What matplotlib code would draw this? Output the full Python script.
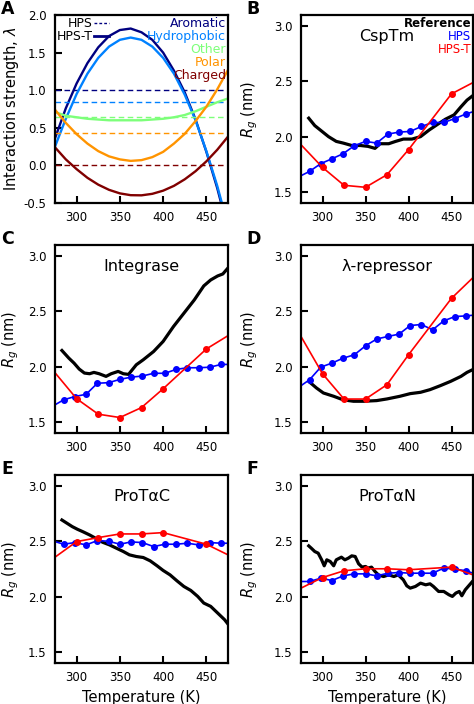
import numpy as np
import matplotlib
matplotlib.use("Agg")
import matplotlib.pyplot as plt

plt.rcParams['axes.unicode_minus'] = False

# --------------------------
# Panel A: interaction strength vs temperature
# --------------------------
T_lam = [275, 287.5, 300, 312.5, 325, 337.5, 350, 362.5, 375, 387.5, 400,
         412.5, 425, 437.5, 450, 462.5, 475]
lam_aromatic = [0.36, 0.76, 1.09, 1.36, 1.57, 1.72, 1.80, 1.82, 1.77, 1.67, 1.50,
                1.26, 0.97, 0.61, 0.18, -0.30, -0.85]
lam_hydrophobic = [0.25, 0.62, 0.95, 1.22, 1.43, 1.58, 1.67, 1.70, 1.67, 1.58, 1.43,
                   1.22, 0.94, 0.60, 0.19, -0.27, -0.80]
lam_other = [0.71, 0.66, 0.64, 0.62, 0.61, 0.60, 0.60, 0.60, 0.60, 0.61, 0.62,
             0.64, 0.67, 0.72, 0.78, 0.84, 0.89]
lam_polar = [0.74, 0.565, 0.415, 0.29, 0.19, 0.12, 0.08, 0.06, 0.07, 0.11, 0.18,
             0.29, 0.42, 0.59, 0.78, 1.01, 1.27]
lam_charged = [0.24, 0.08, -0.05, -0.165, -0.256, -0.325, -0.372, -0.396, -0.398,
               -0.378, -0.336, -0.272, -0.185, -0.077, 0.054, 0.207, 0.383]
lam_hps = [1.0, 0.84, 0.65, 0.43, 0.0]
categories = ["Aromatic", "Hydrophobic", "Other", "Polar", "Charged"]

# --------------------------
# Panels B-F: Rg vs temperature
# --------------------------
T_hps = [275, 285, 298, 311, 324, 337, 350, 363, 376, 389, 402, 415, 428, 441, 454, 467, 475]
T_hpst = [275, 300, 325, 350, 375, 400, 450, 475]

proteins = ["CspTm", "Integrase", "λ-repressor", "ProTαC", "ProTαN"]

ref_T = {
    "CspTm": [284, 291, 299, 307, 316, 324, 334, 344, 353, 361, 367, 377, 385, 394,
              404, 414, 424, 433, 443, 453, 461, 468, 476],
    "Integrase": [283, 291, 297, 303, 309, 315, 320, 326, 334, 340, 348, 354, 360,
                  369, 377, 389, 400, 412, 424, 436, 447, 455, 463, 469, 477],
    "λ-repressor": [284, 293, 301, 313, 324, 336, 348, 363, 375, 390, 402, 414, 425,
                    437, 449, 461, 468, 476],
    "ProTαC": [283, 289, 295, 301, 307, 315, 322, 330, 338, 346, 354, 361, 369, 377,
               385, 393, 400, 408, 416, 424, 432, 440, 447, 455, 463, 471, 477],
    "ProTαN": [284, 287, 291, 295, 299, 302, 305, 309, 313, 316, 322, 326, 330, 334,
               338, 342, 346, 350, 353, 357, 361, 365, 371, 377, 383, 388, 394, 398,
               402, 408, 414, 420, 425, 429, 435, 441, 447, 451, 455, 459, 462, 466,
               470, 476],
}
ref_rg = {
    "CspTm": [2.167, 2.10, 2.05, 2.0, 1.957, 1.942, 1.92, 1.92, 1.912, 1.894, 1.936,
              1.936, 1.957, 1.978, 1.978, 2.0, 2.06, 2.107, 2.158, 2.197, 2.27, 2.33, 2.378],
    "Integrase": [2.146, 2.077, 2.032, 1.978, 1.942, 1.936, 1.948, 1.936, 1.912, 1.936,
                  1.957, 1.936, 1.93, 2.017, 2.062, 2.137, 2.228, 2.363, 2.483, 2.603,
                  2.73, 2.784, 2.82, 2.838, 2.91],
    "λ-repressor": [1.867, 1.807, 1.762, 1.732, 1.70, 1.687, 1.687, 1.693, 1.708, 1.732,
                    1.756, 1.768, 1.792, 1.828, 1.867, 1.912, 1.948, 1.978],
    "ProTαC": [2.693, 2.663, 2.633, 2.609, 2.588, 2.558, 2.528, 2.492, 2.468, 2.438,
               2.408, 2.378, 2.363, 2.354, 2.324, 2.279, 2.237, 2.197, 2.143, 2.092,
               2.056, 2.002, 1.942, 1.912, 1.852, 1.792, 1.732],
    "ProTαN": [2.459, 2.438, 2.408, 2.393, 2.333, 2.279, 2.333, 2.318, 2.279, 2.333,
               2.357, 2.333, 2.348, 2.369, 2.363, 2.297, 2.267, 2.273, 2.258, 2.267,
               2.228, 2.197, 2.182, 2.197, 2.182, 2.197, 2.152, 2.098, 2.077, 2.092,
               2.122, 2.107, 2.116, 2.092, 2.047, 2.047, 2.017, 2.002, 2.032, 2.047,
               2.008, 2.062, 2.098, 2.152],
}
hps_rg = {
    "CspTm": [1.647, 1.686, 1.756, 1.80, 1.846, 1.918, 1.957, 1.942, 2.023, 2.041,
              2.047, 2.092, 2.128, 2.128, 2.164, 2.206, 2.225],
    "Integrase": [1.655, 1.70, 1.73, 1.75, 1.85, 1.855, 1.885, 1.905, 1.915, 1.94,
                  1.94, 1.975, 1.99, 1.99, 1.995, 2.02, 2.02],
    "λ-repressor": [1.828, 1.882, 1.996, 2.032, 2.077, 2.107, 2.188, 2.25, 2.273, 2.294,
                    2.372, 2.381, 2.333, 2.414, 2.453, 2.459, 2.465],
    "ProTαC": [2.498, 2.474, 2.489, 2.468, 2.507, 2.501, 2.474, 2.495, 2.489, 2.453,
               2.474, 2.474, 2.483, 2.468, 2.489, 2.483, 2.483],
    "ProTαN": [2.137, 2.137, 2.167, 2.146, 2.188, 2.206, 2.206, 2.188, 2.212, 2.218,
               2.212, 2.212, 2.212, 2.258, 2.249, 2.234, 2.212],
}
hpst_rg = {
    "CspTm": [1.927, 1.722, 1.56, 1.542, 1.656, 1.882, 2.387, 2.489],
    "Integrase": [1.945, 1.71, 1.57, 1.54, 1.63, 1.80, 2.16, 2.28],
    "λ-repressor": [2.273, 1.936, 1.707, 1.707, 1.837, 2.107, 2.618, 2.805],
    "ProTαC": [2.357, 2.498, 2.534, 2.567, 2.567, 2.579, 2.474, 2.378],
    "ProTαN": [2.077, 2.173, 2.234, 2.252, 2.252, 2.243, 2.267, 2.197],
}

# --------------------------
# Figure layout
# --------------------------
fig = plt.figure(figsize=(4.74, 7.04), dpi=100)
W, H = 474, 704
col_left = [55, 301]
col_width = [173, 172]
row_top = [15, 245, 475]
ax_h = 188
label_x = [-0.195, -0.24]

axes = []
for r in range(3):
    for c in range(2):
        ax = fig.add_axes([col_left[c] / W, 1 - (row_top[r] + ax_h) / H,
                           col_width[c] / W, ax_h / H])
        ax.yaxis.set_label_coords(label_x[c], 0.5)
        axes.append(ax)

for i, ax in enumerate(axes):
    ax.set_xlim(275, 475)
    ax.set_xticks([300, 350, 400, 450])
    ax.tick_params(direction='in', length=5, width=1.5, labelsize=8.5, pad=6,
                   top=False, right=False)
    for sp in ax.spines.values():
        sp.set_linewidth(1.6)

letters = ["A", "B", "C", "D", "E", "F"]
for i, L in enumerate(letters):
    r, c = divmod(i, 2)
    x = [1, 246][c] / W
    y = 1 - [0, 230, 460][r] / H
    fig.text(x, y, L, fontsize=12.5, fontweight='bold', va='top', ha='left')

# --------------------------
# Panel A
# --------------------------
ax = axes[0]
colors = plt.cm.jet(np.linspace(0, 1, 5))
curves = [lam_aromatic, lam_hydrophobic, lam_other, lam_polar, lam_charged]
solid = []
for cat, lam, col, h in zip(categories, curves, colors, lam_hps):
    ax.axhline(h, color=col, ls='--', lw=1.0, dashes=(4, 2.5))
    ln, = ax.plot(T_lam, lam, color=col, lw=1.7)
    solid.append(ln)
ax.set_ylim(-0.5, 2.0)
ax.set_yticks([-0.5, 0.0, 0.5, 1.0, 1.5, 2.0])
ax.set_ylabel(r"Interaction strength, $\lambda$", fontsize=10.5)

h_dash, = ax.plot([], [], color=colors[0], ls='--', lw=1.0, dashes=(2, 1.5))
h_solid, = ax.plot([], [], color=colors[0], lw=2)
leg1 = ax.legend([h_dash, h_solid], ["HPS", "HPS-T"], loc='upper left',
                 frameon=False, fontsize=9, markerfirst=False, handlelength=1.2,
                 handletextpad=0.1, labelspacing=0.05, borderaxespad=0.05,
                 borderpad=0.1)
ax.add_artist(leg1)
leg2 = ax.legend(solid, categories, loc='upper right', frameon=False, fontsize=9,
                 markerfirst=False, handlelength=0, handletextpad=0,
                 labelspacing=0.0, borderaxespad=0.05, borderpad=0.1)
for txt, col in zip(leg2.get_texts(), colors):
    txt.set_color(col)

# --------------------------
# Panels B-F
# --------------------------
for ax, name in zip(axes[1:], proteins):
    ax.plot(ref_T[name], ref_rg[name], color='black', lw=2.3)
    ax.plot(T_hps, hps_rg[name], color='blue', lw=1.2, marker='o', ms=4,
            markevery=slice(1, len(T_hps) - 1))
    ax.plot(T_hpst, hpst_rg[name], color='red', lw=1.2, marker='o', ms=4,
            markevery=slice(1, len(T_hpst) - 1))
    ax.set_ylim(1.4, 3.1)
    ax.set_yticks([1.5, 2.0, 2.5, 3.0])
    ax.set_ylabel(r"$R_g$ (nm)", fontsize=10.5)
    ax.text(0.5, 0.885, name, transform=ax.transAxes, ha='center', va='center',
            fontsize=11.5)

ax = axes[1]
hb, = ax.plot([], [], color='black')
hh, = ax.plot([], [], color='blue')
hr, = ax.plot([], [], color='red')
leg = ax.legend([hb, hh, hr], ["Reference", "HPS", "HPS-T"], loc='upper right',
                frameon=False, fontsize=8.5, markerfirst=False, handlelength=0,
                handletextpad=0, labelspacing=0.0, borderaxespad=0.05, borderpad=0.1)
for txt, col in zip(leg.get_texts(), ['black', 'blue', 'red']):
    txt.set_color(col)
leg.get_texts()[0].set_fontweight('bold')

for ax in axes[4:]:
    ax.set_xlabel("Temperature (K)", fontsize=10.5, labelpad=4)

fig.savefig("out.png", dpi=100)
